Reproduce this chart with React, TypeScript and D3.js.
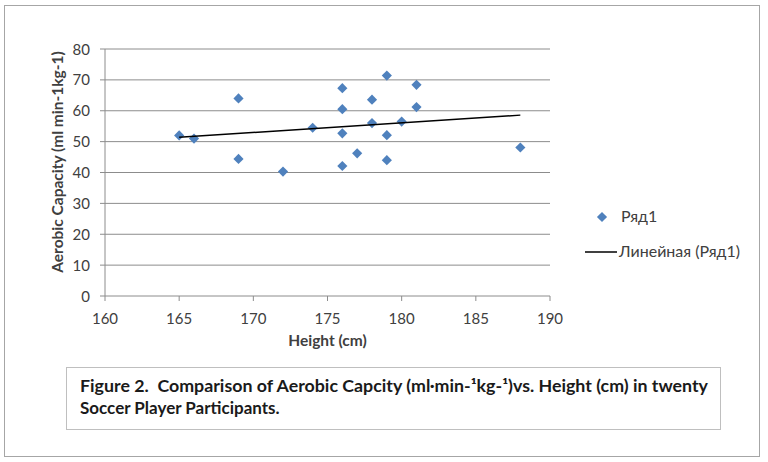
import React from 'react'
import * as d3 from 'd3'

// Height (cm) of each of the twenty players
const heights = [165, 166, 169, 169, 172, 174, 176, 176, 176, 176, 177, 178, 178, 179, 179, 179, 180, 181, 181, 188]
// Aerobic capacity (ml min-1 kg-1)
const capacities = [52, 51, 64, 44.4, 40.3, 54.5, 67.3, 60.5, 52.7, 42.1, 46.2, 63.6, 56, 71.4, 52.1, 44, 56.5, 68.4, 61.2, 48.1]
const xTicks = [160, 165, 170, 175, 180, 185, 190]
const yTicks = [0, 10, 20, 30, 40, 50, 60, 70, 80]
const seriesName = 'Ряд1'
const trendName = 'Линейная (Ряд1)'
const captionLines = [
  'Figure 2.  Comparison of Aerobic Capcity (ml·min-¹kg-¹)vs. Height (cm) in twenty',
  'Soccer Player Participants.',
]

const width = 768
const height = 462
const plot = { left: 105, right: 550, top: 49, bottom: 296 }
const font = 'Lato, "Open Sans", sans-serif'
const textColor = '#404040'
const gridColor = '#8c8c8c'
const pointColor = '#4f81bd'

const App: React.FC = () => {
  const x = d3.scaleLinear().domain([160, 190]).range([plot.left, plot.right])
  const y = d3.scaleLinear().domain([0, 80]).range([plot.bottom, plot.top])

  // least squares trend line, like Excel's linear trendline
  const points = heights.map((h, i) => ({ h, c: capacities[i] }))
  const mx = d3.mean(heights)!
  const my = d3.mean(capacities)!
  const sxy = d3.sum(points, (p) => (p.h - mx) * (p.c - my))
  const sxx = d3.sum(points, (p) => (p.h - mx) ** 2)
  const slope = sxy / sxx
  const icpt = my - slope * mx
  const [hMin, hMax] = d3.extent(heights) as [number, number]
  const trend = d3.line<number>()
    .x((d) => x(d))
    .y((d) => y(icpt + slope * d))([hMin, hMax])

  const diamond = d3.symbol().type(d3.symbolDiamond2).size(66)()

  return (
    <svg width={width} height={height} style={{ position: 'absolute', left: 0, top: 0, background: '#fff' }}>
      {/* chart frame */}
      <rect x={4.5} y={5.5} width={755} height={451} fill="#fff" stroke="#a6a6a6" strokeWidth={1} />

      {/* gridlines */}
      {yTicks.map((t) => (
        <line key={'g' + t} x1={plot.left - 5} x2={plot.right} y1={y(t)} y2={y(t)} stroke={gridColor} strokeWidth={1} />
      ))}
      {/* y axis */}
      <line x1={plot.left} x2={plot.left} y1={plot.top} y2={plot.bottom} stroke={gridColor} strokeWidth={1} />
      {/* x axis ticks */}
      {xTicks.map((t) => (
        <line key={'xt' + t} x1={x(t)} x2={x(t)} y1={plot.bottom} y2={plot.bottom + 5} stroke={gridColor} strokeWidth={1} />
      ))}

      {yTicks.map((t) => (
        <text key={'yl' + t} x={plot.left - 15} y={y(t) + 5.5} textAnchor="end" fontFamily={font} fontSize={15} fill={textColor}>
          {t}
        </text>
      ))}
      {xTicks.map((t) => (
        <text key={'xl' + t} x={x(t)} y={plot.bottom + 27.5} textAnchor="middle" fontFamily={font} fontSize={15} fill={textColor}>
          {t}
        </text>
      ))}

      <text x={x(175)} y={346} textAnchor="middle" fontFamily={font} fontSize={15.5} fontWeight="bold" fill={textColor}>
        Height (cm)
      </text>
      <text transform={`translate(63, 162) rotate(-90)`} textAnchor="middle" fontFamily={font} fontSize={15.5} fontWeight="bold" fill={textColor}>
        Aerobic Capacity (ml min-1kg-1)
      </text>

      {/* points */}
      {points.map((p, i) => (
        <path key={'p' + i} d={diamond!} transform={`translate(${x(p.h)}, ${y(p.c)})`} fill={pointColor} />
      ))}
      {/* trendline */}
      <path d={trend!} fill="none" stroke="#000" strokeWidth={1.5} />

      {/* legend */}
      <path d={diamond!} transform="translate(602, 217)" fill={pointColor} />
      <text x={621} y={222} fontFamily={font} fontSize={16} fill={textColor}>{seriesName}</text>
      <line x1={585} x2={617} y1={252} y2={252} stroke="#000" strokeWidth={1.5} />
      <text x={619} y={257} fontFamily={font} fontSize={16} fill={textColor}>{trendName}</text>

      {/* caption */}
      <rect x={66.5} y={367.5} width={654} height={62} fill="#fff" stroke="#bfbfbf" strokeWidth={1} />
      {captionLines.map((line, i) => (
        <text
          key={'c' + i}
          x={80}
          y={392 + i * 22}
          fontFamily={font}
          fontSize={17}
          fontWeight="bold"
          fill="#1a1a1a"
          style={{ whiteSpace: 'pre' }}
          textLength={i === 0 ? 628 : undefined}
          lengthAdjust="spacingAndGlyphs"
        >
          {line}
        </text>
      ))}
    </svg>
  )
}

export default App
